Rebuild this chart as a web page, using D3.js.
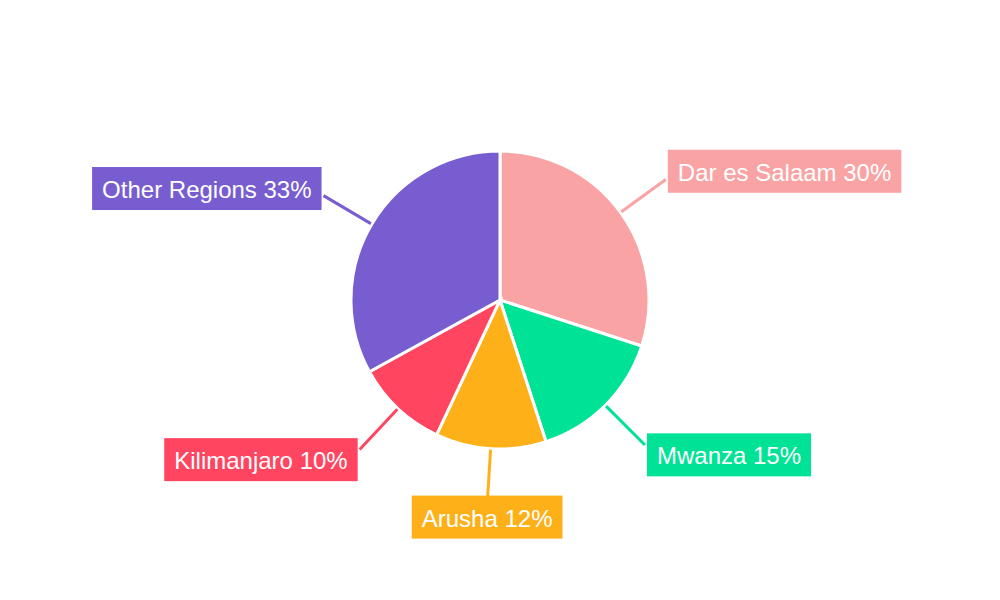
<!DOCTYPE html><html><head><meta charset="utf-8">
<script src="https://cdn.jsdelivr.net/npm/d3@7/dist/d3.min.js"></script>
<style>body{margin:0;background:#fff}</style></head><body>
<svg id="c" width="1000" height="600"></svg>
<script>
const categories=["Dar es Salaam","Mwanza","Arusha","Kilimanjaro","Other Regions"];
const values=[30,15,12,10,33];
const colors=["#F9A3A4","#00E396","#FEB019","#FF4560","#775DD0"];
const svg=d3.select("#c"),cx=500,cy=300,R=149;
const g=svg.append("g").attr("transform",`translate(${cx},${cy})`);
const pie=d3.pie().sort(null).value(d=>d)(values);
const arc=d3.arc().innerRadius(0).outerRadius(R);
g.selectAll("path.s").data(pie).join("path").attr("d",arc).attr("fill",(d,i)=>colors[i]).attr("stroke","#fff").attr("stroke-width",3);
pie.forEach((d,i)=>{
  const a=(d.startAngle+d.endAngle)/2,s=Math.sin(a),c=Math.cos(a);
  const x1=150*s,y1=-150*c,x2=205*s,y2=-205*c;
  g.append("line").attr("x1",x1).attr("y1",y1).attr("x2",x2).attr("y2",y2).attr("stroke",colors[i]).attr("stroke-width",3);
  const txt=`${categories[i]} ${values[i]}%`;
  const t=g.append("text").text(txt).attr("font-family","Liberation Sans, Arial").attr("font-size",24).attr("fill","#fff").attr("dominant-baseline","central");
  const w=t.node().getComputedTextLength()+20,h=43;
  let bx,by;
  if(Math.abs(s)<0.3){bx=x2-w/2;by=y2-9;}
  else{by=y2-14*c-h/2;bx=s>0?x2+2:x2-w-2;}
  g.insert("rect","text").attr("x",bx).attr("y",by).attr("width",w).attr("height",h).attr("fill",colors[i]);
  t.attr("x",bx+10).attr("y",by+h/2+1);
});
</script></body></html>
